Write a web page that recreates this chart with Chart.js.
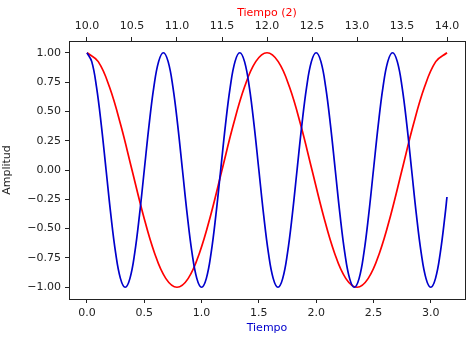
<!DOCTYPE html>
<html lang='es'>
<head>
  <meta charset='UTF-8'>
  <title>Amplitud vs Tiempo</title>
  <style>
    html, body { margin: 0; padding: 0; background: #ffffff; }
    #wrap { width: 474px; height: 343px; }
  </style>
  <script src="https://cdn.jsdelivr.net/npm/chart.js@4"></script>
</head>
<body>
  <div id='wrap'><canvas id='chart' width='474' height='343'></canvas></div>
  <script>
    // Serie azul: eje inferior (Tiempo), muestras cada 1/24 s
    const tiempo = [
      0, 0.0417, 0.0833, 0.125, 0.1667, 0.2083, 0.25, 0.2917, 0.3333, 0.375, 0.4167, 0.4583,
      0.5, 0.5417, 0.5833, 0.625, 0.6667, 0.7083, 0.75, 0.7917, 0.8333, 0.875, 0.9167, 0.9583,
      1.0, 1.0417, 1.0833, 1.125, 1.1667, 1.2083, 1.25, 1.2917, 1.3333, 1.375, 1.4167, 1.4583,
      1.5, 1.5417, 1.5833, 1.625, 1.6667, 1.7083, 1.75, 1.7917, 1.8333, 1.875, 1.9167, 1.9583,
      2.0, 2.0417, 2.0833, 2.125, 2.1667, 2.2083, 2.25, 2.2917, 2.3333, 2.375, 2.4167, 2.4583,
      2.5, 2.5417, 2.5833, 2.625, 2.6667, 2.7083, 2.75, 2.7917, 2.8333, 2.875, 2.9167, 2.9583,
      3.0, 3.0417, 3.0833, 3.125, 3.1416];
    const amplitudAzul = [
      1, 0.924, 0.707, 0.383, 0, -0.383, -0.707, -0.924, -1, -0.924, -0.707, -0.383,
      0, 0.383, 0.707, 0.924, 1, 0.924, 0.707, 0.383, 0, -0.383, -0.707, -0.924,
      -1, -0.924, -0.707, -0.383, 0, 0.383, 0.707, 0.924, 1, 0.924, 0.707, 0.383,
      0, -0.383, -0.707, -0.924, -1, -0.924, -0.707, -0.383, 0, 0.383, 0.707, 0.924,
      1, 0.924, 0.707, 0.383, 0, -0.383, -0.707, -0.924, -1, -0.924, -0.707, -0.383,
      0, 0.383, 0.707, 0.924, 1, 0.924, 0.707, 0.383, 0, -0.383, -0.707, -0.924,
      -1, -0.924, -0.707, -0.383, -0.23];

    // Serie roja: eje superior (Tiempo (2)), muestras cada 0.125
    const tiempo2 = [
      10, 10.125, 10.25, 10.375, 10.5, 10.625, 10.75, 10.875,
      11, 11.125, 11.25, 11.375, 11.5, 11.625, 11.75, 11.875,
      12, 12.125, 12.25, 12.375, 12.5, 12.625, 12.75, 12.875,
      13, 13.125, 13.25, 13.375, 13.5, 13.625, 13.75, 13.875, 14];
    const amplitudRoja = [
      1, 0.924, 0.707, 0.383, 0, -0.383, -0.707, -0.924,
      -1, -0.924, -0.707, -0.383, 0, 0.383, 0.707, 0.924,
      1, 0.924, 0.707, 0.383, 0, -0.383, -0.707, -0.924,
      -1, -0.924, -0.707, -0.383, 0, 0.383, 0.707, 0.924, 1];

    const ticksX = [0, 0.5, 1, 1.5, 2, 2.5, 3];
    const ticksX2 = [10, 10.5, 11, 11.5, 12, 12.5, 13, 13.5, 14];
    const ticksY = [-1, -0.75, -0.5, -0.25, 0, 0.25, 0.5, 0.75, 1];

    const AZUL = '#0000cc';
    const ROJO = '#ff0000';
    const FONT = { family: "'DejaVu Sans', sans-serif", size: 11 };

    const fixTicks = list => scale => { scale.ticks = list.map(v => ({ value: v })); };

    // marco alrededor del área del gráfico
    const frame = {
      id: 'frame',
      afterDatasetsDraw(chart) {
        const a = chart.chartArea, ctx = chart.ctx;
        ctx.save();
        ctx.strokeStyle = '#222';
        ctx.lineWidth = 1;
        ctx.strokeRect(Math.round(a.left) + 0.5, Math.round(a.top) + 0.5,
          Math.round(a.right - a.left), Math.round(a.bottom - a.top));
        ctx.restore();
      }
    };

    const axisGrid = { drawOnChartArea: false, tickLength: 4, color: '#222', tickWidth: 1 };

    new Chart(document.getElementById('chart'), {
      type: 'line',
      data: {
        datasets: [
          {
            data: tiempo.map((t, i) => ({ x: t, y: amplitudAzul[i] })),
            borderColor: AZUL, borderWidth: 1.7, pointRadius: 0, tension: 0.4,
            xAxisID: 'x', yAxisID: 'y'
          },
          {
            data: tiempo2.map((t, i) => ({ x: t, y: amplitudRoja[i] })),
            borderColor: ROJO, borderWidth: 1.7, pointRadius: 0, tension: 0.4,
            xAxisID: 'x2', yAxisID: 'y'
          }
        ]
      },
      options: {
        responsive: false,
        animation: false,
        layout: { padding: { left: 0, right: 9, top: 0, bottom: 0 } },
        plugins: { legend: { display: false }, tooltip: { enabled: false } },
        scales: {
          x: {
            type: 'linear', position: 'bottom', min: -0.157, max: 3.299,
            afterBuildTicks: fixTicks(ticksX),
            afterFit: s => { s.height = 44; },
            grid: axisGrid, border: { display: false },
            ticks: { font: FONT, color: '#222', padding: 4, maxRotation: 0,
              callback: v => v.toFixed(1) },
            title: { display: true, text: 'Tiempo', color: AZUL, font: FONT,
              padding: { top: 0, bottom: 8 } }
          },
          x2: {
            type: 'linear', position: 'top', min: 9.8, max: 14.2,
            afterBuildTicks: fixTicks(ticksX2),
            afterFit: s => { s.height = 41; },
            grid: axisGrid, border: { display: false },
            ticks: { font: FONT, color: '#222', padding: 4, maxRotation: 0,
              callback: v => v.toFixed(1) },
            title: { display: true, text: 'Tiempo (2)', color: ROJO, font: FONT,
              padding: { top: 7, bottom: 0 } }
          },
          y: {
            type: 'linear', position: 'left', min: -1.1, max: 1.1,
            afterBuildTicks: fixTicks(ticksY),
            afterFit: s => { s.width = 69; },
            grid: axisGrid, border: { display: false },
            ticks: { font: FONT, color: '#222', padding: 4,
              callback: v => v.toFixed(2).replace('-', '\u2212') },
            title: { display: true, text: 'Amplitud', color: '#222', font: FONT,
              padding: { top: 1, bottom: 0 } }
          }
        }
      },
      plugins: [frame]
    });
  </script>
</body>
</html>
